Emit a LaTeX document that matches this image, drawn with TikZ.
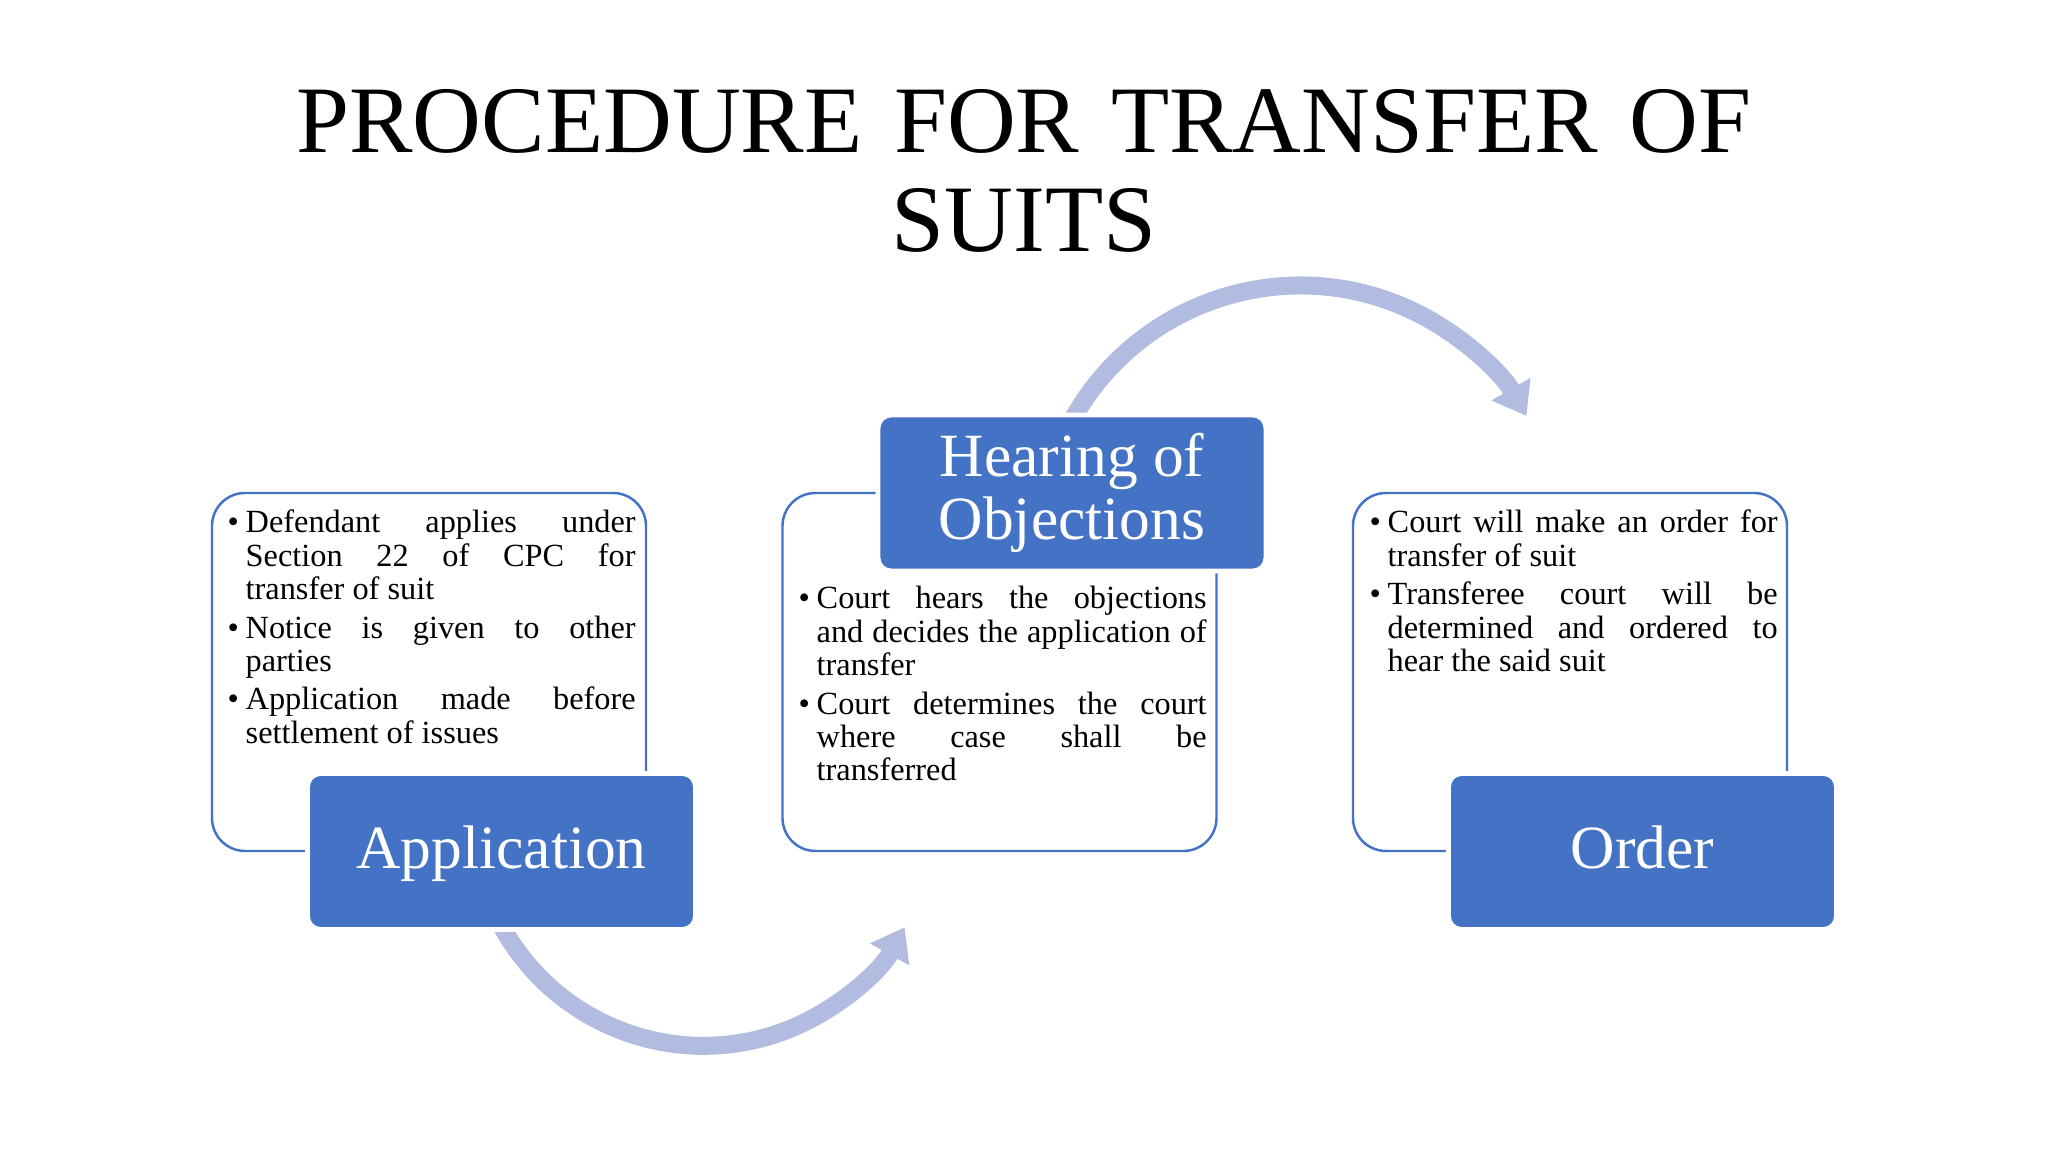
\documentclass[tikz,border=0pt]{standalone}
\usepackage{fontspec}
\setmainfont{Liberation Serif}
\usepackage{tikz}
\usetikzlibrary{arrows.meta}
\definecolor{boxBlue}{RGB}{68, 114, 196}
\definecolor{arcBlue}{RGB}{177, 188, 224}
% justified bullet paragraphs: no shrinking, no hyphenation
\newcommand{\justifyset}{\spaceskip=0.25em plus 2em minus 0em\relax
  \xspaceskip=\spaceskip \parfillskip=0pt plus 1fill\relax
  \leftskip=0pt\relax \rightskip=0pt\relax \parskip=1.4pt\relax
  \hyphenpenalty=10000\relax \exhyphenpenalty=10000\relax \tolerance=10000\relax}
\newcommand{\point}[1]{\par\noindent\hangindent=1.8mm\hangafter=1\relax
  \makebox[1.8mm][l]{\textbullet}#1\par}

\begin{document}
\begin{tikzpicture}[
    panel/.style = {draw=boxBlue, line width=0.7pt, rounded corners=3.3mm,
        minimum width=4.34cm, minimum height=3.58cm, inner sep=0pt},
    stage/.style = {draw=white, line width=1.4pt, fill=boxBlue,
        rounded corners=1.3mm, minimum width=3.88cm, minimum height=1.56cm,
        inner sep=0pt, text=white, align=center,
        font=\fontsize{17.5}{17.9}\selectfont},
    oneline/.style = {text height=13pt, text depth=3.5pt},
    bullets/.style = {text width=4.08cm, inner sep=0pt, anchor=north west,
        align=justify, font=\fontsize{9.2}{9.5}\selectfont},
    flow/.style = {arcBlue, line width=1.8mm,
        -{Triangle[length=3.1mm, width=4.3mm]}}
  ]
  \fill[white] (0,0) rectangle (20.48,11.52);

  \node[font=\fontsize{27.1}{27.9}\selectfont, text width=16cm, align=center,
    inner sep=0pt, anchor=base] (title) at (10.24,9.99)
    {PROCEDURE FOR TRANSFER OF\\SUITS};

  % outlined panels
  \node[panel] (applyPanel) at (4.29,4.80) {};
  \node[panel] (hearPanel) at (9.995,4.80) {};
  \node[panel] (orderPanel) at (15.70,4.80) {};

  % curved arrows, tails hidden under the stage boxes
  \coordinate (lowStart) at (4.95,2.39);
  \coordinate (highStart) at (10.70,7.28);
  \draw[flow] (lowStart) arc[start angle=205, end angle=331, radius=2.3cm];
  \draw[flow] (highStart) arc[start angle=152, end angle=30, radius=2.61cm];

  \node[stage, oneline] (apply) at (5.015,3.005) {Application};
  \node[stage] (hear) at (10.72,6.59) {Hearing of\\Objections};
  \node[stage, oneline] (order) at (16.425,3.005) {Order};

  \node[bullets] (applyText) at (2.27,6.58)
    {\justifyset
     \point{Defendant applies under Section 22 of CPC for transfer of suit}%
     \point{Notice is given to other parties}%
     \point{Application made before settlement of issues}};
  \node[bullets] (hearText) at (7.98,5.82)
    {\justifyset
     \point{Court hears the objections\linebreak and decides the application of transfer}%
     \point{Court determines the court where case shall be transferred}};
  \node[bullets] (orderText) at (13.69,6.58)
    {\justifyset
     \point{Court will make an order for transfer of suit}%
     \point{Transferee court will be determined and ordered to hear the said suit}};
\end{tikzpicture}
\end{document}
